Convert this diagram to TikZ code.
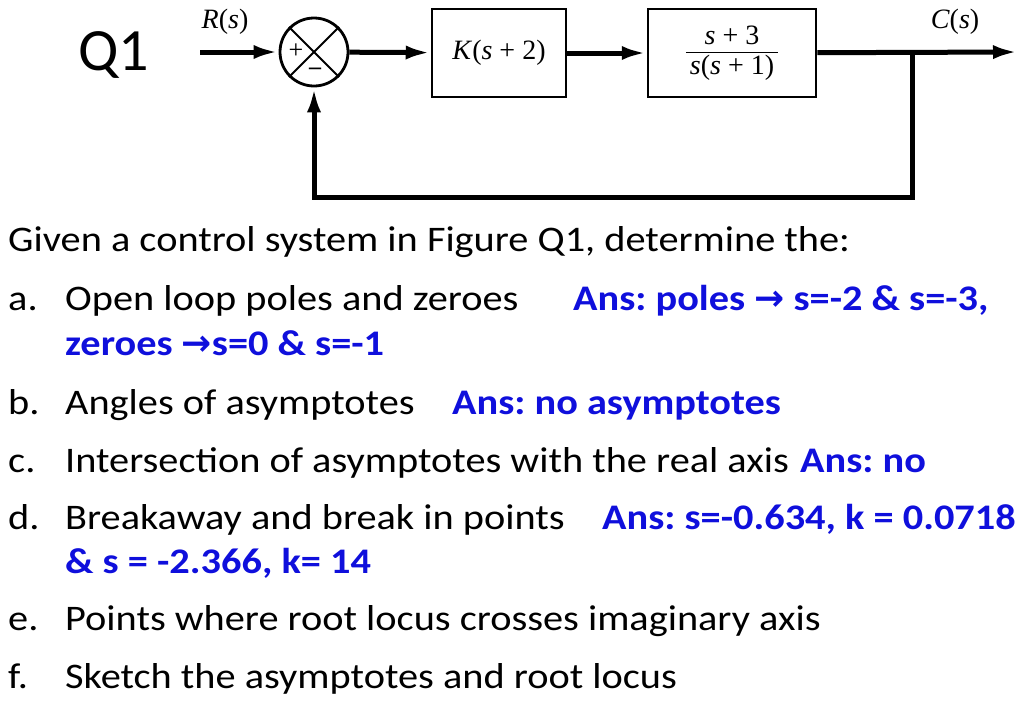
\documentclass[tikz,border=0pt]{standalone}
\usepackage{fontspec}
\setmainfont[FakeStretch=1.12]{Carlito}
\newfontfamily\titlefont{Carlito}
\newfontfamily\blockfont{Liberation Serif}
\newfontfamily\arrowfont{DejaVu Sans}
\usetikzlibrary{arrows.meta,positioning}
\definecolor{ansblue}{RGB}{15,15,220}
\newcommand{\vr}[1]{\textit{#1}}
\newcommand{\ansarrow}{{\arrowfont\bfseries →}}
\frenchspacing
\begin{document}
\begin{tikzpicture}[x=1pt,y=-1pt,
    sig/.style={line width=5pt,line join=miter},
    arr/.style={sig,-{Latex[length=25pt,width=14pt]}},
    blk/.style={draw,line width=2.5pt,minimum width=134pt,minimum height=88pt,
        font=\blockfont\fontsize{28}{32}\selectfont},
    lbl/.style={font=\blockfont\fontsize{28}{32}\selectfont,inner sep=0pt},
    txt/.style={anchor=base west,inner sep=0pt,font=\fontsize{36}{40}\selectfont},
    ans/.style={anchor=base west,inner sep=0pt,text=ansblue,
        font=\fontsize{36}{40}\selectfont\bfseries}]
    \useasboundingbox (0,0) rectangle (1020,702);

    % Schema a blocchi
    \node[anchor=base west,inner sep=0pt,font=\titlefont\fontsize{60}{60}\selectfont] (qnum) at (78,70) {Q1};
    \node[circle,draw,line width=2.8pt,minimum size=68pt,inner sep=0pt] (sum) at (314,52) {};
    \draw[line width=2pt] (sum.north west) -- (sum.south east)
                          (sum.north east) -- (sum.south west);
    \node[lbl,font=\blockfont\fontsize{26}{28}\selectfont] (plus) at (296,51) {+};
    \node[lbl,font=\blockfont\bfseries\fontsize{24}{26}\selectfont] (minus) at (315,71) {–};
    \node[blk] (ctrl) at (499,53) {\vr{K}(\vr{s} + 2)};
    \node[blk,minimum width=168pt] (plant) at (732,53)
        {\setlength{\tabcolsep}{4pt}\begin{tabular}{c}\vr{s} + 3\\[-2pt]\hline\vr{s}(\vr{s} + 1)\end{tabular}};

    % Punti dei collegamenti
    \coordinate (in) at (200,52);
    \coordinate (out) at (1018,52);
    \coordinate (branch) at (912,52);
    \coordinate (fbr) at (912,197);
    \coordinate (fbl) at (314,197);

    \draw[arr] (in) -- (sum);
    \draw[arr] (sum) -- (ctrl);
    \draw[arr] (ctrl) -- (plant);
    \draw[arr] (plant) -- (out);
    \draw[arr] (branch) -- (fbr) -- (fbl) -- (sum);

    % Etichette dei segnali
    \node[lbl] (rlbl) at (225,22) {\vr{R}(\vr{s})};
    \node[lbl] (clbl) at (955,22) {\vr{C}(\vr{s})};

    % Domande e risposte
    \node[txt] (intro) at (8,251) {Given a control system in Figure Q1, determine the:};
    \node[txt] (la) at (8,310) {a.};
    \node[txt] (qa) at (65,310) {Open loop poles and zeroes};
    \node[ans] (aa) at (573,310) {Ans: poles \ansarrow\ s=-2 \& s=-3,};
    \node[ans] (aa2) at (65,355) {zeroes \ansarrow s=0 \& s=-1};
    \node[txt] (lb) at (8,414) {b.};
    \node[txt] (qb) at (65,414) {Angles of asymptotes};
    \node[ans] (ab) at (452,414) {Ans: no asymptotes};
    \node[txt] (lc) at (8,472) {c.};
    \node[txt] (qc) at (65,472) {Intersection of asymptotes with the real axis};
    \node[ans] (ac) at (800,472) {Ans: no};
    \node[txt] (ld) at (8,529) {d.};
    \node[txt] (qd) at (65,529) {Breakaway and break in points};
    \node[ans] (ad) at (602,529) {Ans: s=-0.634, k = 0.0718};
    \node[ans] (ad2) at (65,573) {\& s = -2.366, k= 14};
    \node[txt] (le) at (8,630) {e.};
    \node[txt] (qe) at (65,630) {Points where root locus crosses imaginary axis};
    \node[txt] (lf) at (8,688) {f.};
    \node[txt] (qf) at (65,688) {Sketch the asymptotes and root locus};
\end{tikzpicture}
\end{document}
